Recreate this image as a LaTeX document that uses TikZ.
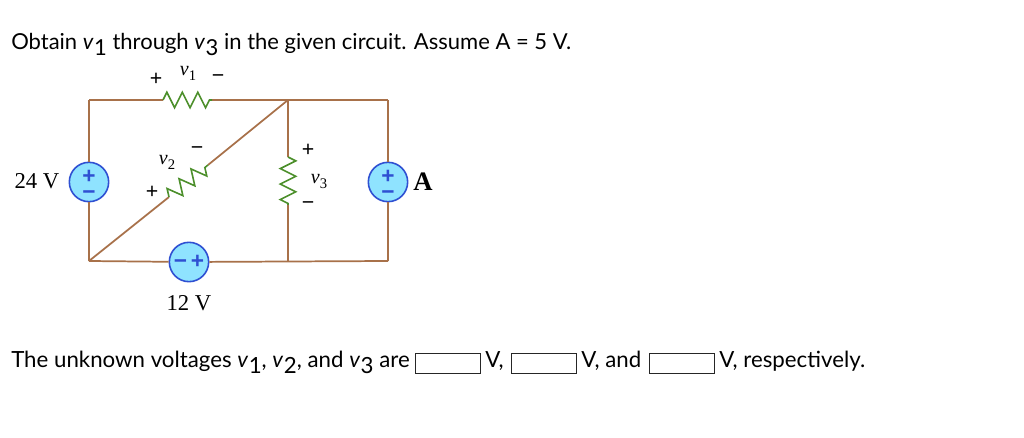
\documentclass[tikz,border=0pt]{standalone}
\usepackage{fontspec}
\setmainfont{Lato}
\newfontfamily\circfont{Liberation Serif}
\newfontfamily\signfont{Liberation Sans}
\usetikzlibrary{decorations.pathmorphing}
\definecolor{wirecol}{HTML}{A8714A}
\definecolor{rescol}{HTML}{4C8F2B}
\definecolor{srcfill}{HTML}{8FE3FF}
\definecolor{srcline}{HTML}{2F50D2}
\newcommand{\vv}[1]{\textit{v}\kern.02em\raisebox{-.28em}{#1}}
\newcommand{\cv}[1]{{\circfont\textit{v}\raisebox{-.25em}{\fontsize{11}{11}\selectfont #1}}}
\newcommand{\srcpm}{\rule{0pt}{14pt}+\\−}
\tikzset{
  wire/.style={draw=wirecol, line width=1.3pt},
  res/.style={draw=rescol, line width=1.2pt, decorate, decoration={zigzag, segment length=11.6pt, amplitude=5.8pt}},
  src/.style={circle, draw=srcline, fill=srcfill, text=srcline, line width=1.2pt, minimum size=29.5pt, inner sep=0pt, align=center, font=\signfont\fontsize{17}{12}\selectfont\bfseries},
  pol/.style={font=\signfont\fontsize{16}{16}\selectfont, inner sep=0pt},
  lab/.style={font=\circfont\fontsize{17}{17}\selectfont, inner sep=0pt},
  vlab/.style={font=\circfont\fontsize{15}{15}\selectfont, inner sep=0pt},
  txt/.style={anchor=base west, font=\fontsize{16.5}{16.5}\selectfont, inner sep=0pt},
  anstxt/.style={txt, font=\fontsize{16.7}{16.7}\selectfont},
  ansbox/.style={draw=black!85, line width=.9pt, minimum width=49pt, minimum height=15.5pt, inner sep=0pt}
}
\begin{document}
\begin{tikzpicture}[x=.75pt,y=-.75pt]
\useasboundingbox (0,0) rectangle (1024,438);
% corners of the circuit
\coordinate (tl) at (89,100);
\coordinate (tm) at (288,100);
\coordinate (tr) at (388,100);
\coordinate (bl) at (89,261);
\coordinate (bm) at (288,261);
\coordinate (br) at (388,261);
% resistor ends
\coordinate (r1a) at (163,100);
\coordinate (r1b) at (212,100);
\coordinate (r2a) at (169,197);
\coordinate (r2b) at (208,165);
\coordinate (r3a) at (288,157);
\coordinate (r3b) at (288,205);
% sources
\node[src] (src0) at (89,182){\srcpm};
\node[src] (src1) at (189,262){−\,+};
\node[src] (src2) at (388,182){\srcpm};
% wires
\draw[wire](src0) -- (tl);
\draw[wire](tl) -- (r1a);
\draw[wire](r1b) -- (tr);
\draw[wire](tr) -- (src2);
\draw[wire](src2) -- (br);
\draw[wire](br) -- (src1);
\draw[wire](src1) -- (bl);
\draw[wire](bl) -- (src0);
\draw[wire](bl) -- (r2a);
\draw[wire](r2b) -- (tm);
\draw[wire](tm) -- (r3a);
\draw[wire](r3b) -- (bm);
\draw[res](r1a) -- (r1b);
\draw[res](r2a) -- (r2b);
\draw[res](r3a) -- (r3b);
% labels
\node[pol] (p1) at (156,79){+};
\node[pol] (m1) at (218,79){−};
\node[vlab] (v1) at (188,73){\cv{1}};
\node[pol] (p2) at (152,192){+};
\node[pol] (m2) at (197,151){−};
\node[vlab] (v2) at (167,162){\cv{2}};
\node[pol] (p3) at (308,150){+};
\node[pol] (m3) at (308,206){−};
\node[vlab] (v3) at (319,181){\cv{3}};
\node[lab] (l24) at (37,181){24 V};
\node[lab] (l12) at (189,303){12 V};
\node[lab, font=\circfont\fontsize{20}{20}\selectfont\bfseries] (lA) at (423,182){A};
% texts
\node[txt] (title) at (11,49.5){Obtain \vv{1} through \vv{3} in the given circuit. Assume A = 5 V.};
\node[anstxt] (ans0) at (11,367.5){The unknown voltages \vv{1}, \vv{2}, and \vv{3} are};
\node[ansbox] (box1) at (448,363.5){};
\node[anstxt] (ans1) at (485,367.5){V,};
\node[ansbox] (box2) at (544,363.5){};
\node[anstxt] (ans2) at (581,367.5){V, and};
\node[ansbox] (box3) at (682,363.5){};
\node[anstxt] (ans3) at (719,367.5){V, respectively.};
\end{tikzpicture}
\end{document}
